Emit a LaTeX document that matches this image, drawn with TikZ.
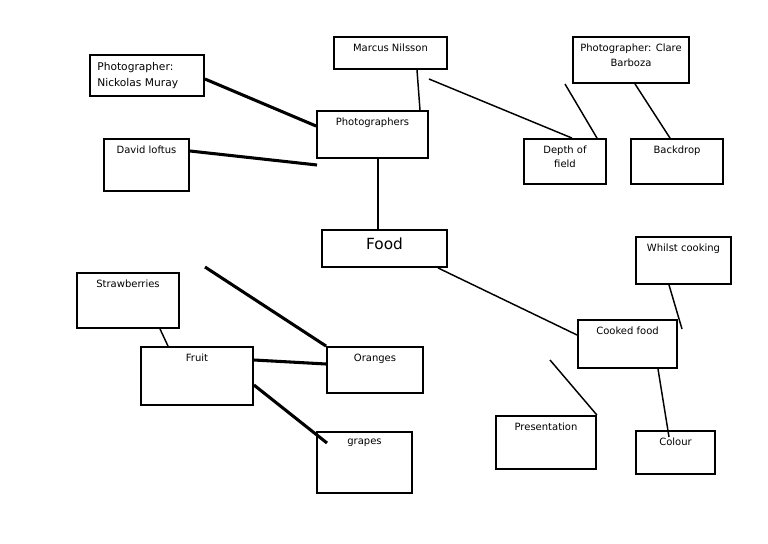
\documentclass[tikz,border=0pt]{standalone}
\usepackage{fontspec}
\setmainfont{DejaVu Sans}
\usetikzlibrary{fit}

\begin{document}
\begin{tikzpicture}[x=0.75pt,y=-0.75pt,
  box/.style={draw,line width=1.4pt,inner sep=0pt},
  lbl/.style={anchor=north,inner sep=0pt,yshift=-6pt,align=center,
    font=\fontsize{7.5}{10.5}\selectfont},
  link/.style={line width=1.1pt},
  heavy/.style={line width=2.3pt}]
  \useasboundingbox (0,0) rectangle (768,543);

  % centre
  \node[box,fit={(322,230) (447,267)},
    label={[lbl,yshift=-0.2pt,font=\fontsize{11.5}{13}\selectfont]north:Food}] (food) {};

  % photographers branch
  \node[box,fit={(317,111) (428,158)},label={[lbl]north:Photographers}] (phot) {};
  \node[box,fit={(90,55) (204,96)},
    label={[lbl,anchor=north west,xshift=6pt,align=left,font=\fontsize{8}{12}\selectfont]north west:Photographer:\\Nickolas Muray}] (muray) {};
  \node[box,fit={(334,37) (447,69)},label={[lbl]north:Marcus Nilsson}] (marcus) {};
  \node[box,fit={(104,139) (189,191)},label={[lbl]north:David loftus}] (loftus) {};
  \node[box,fit={(573,37) (689,83)},label={[lbl,font=\fontsize{7.5}{11}\selectfont]north:Photographer: Clare\\Barboza}] (clare) {};
  \node[box,fit={(524,139) (606,184)},label={[lbl,font=\fontsize{7.5}{9.8}\selectfont]north:Depth of\\field}] (dof) {};
  \node[box,fit={(631,139) (723,184)},label={[lbl]north:Backdrop}] (backdrop) {};

  % fruit branch
  \node[box,fit={(77,273) (179,328)},label={[lbl]north:Strawberries}] (straw) {};
  \node[box,fit={(141,347) (253,405)},label={[lbl]north:Fruit}] (fruit) {};
  \node[box,fit={(327,347) (423,393)},label={[lbl]north:Oranges}] (oranges) {};
  \node[box,fit={(317,432) (412,493)},label={[lbl]north:grapes}] (grapes) {};

  % cooked food branch
  \node[box,fit={(636,237) (731,284)},label={[lbl]north:Whilst cooking}] (whilst) {};
  \node[box,fit={(578,320) (677,368)},label={[lbl]north:Cooked food}] (cooked) {};
  \node[box,fit={(496,416) (596,469)},label={[lbl]north:Presentation}] (pres) {};
  \node[box,fit={(636,431) (715,474)},label={[lbl]north:Colour}] (colour) {};

  % loose line ends
  \coordinate (loftusend) at (317,165);
  \coordinate (dofa) at (429,79);
  \coordinate (dofb) at (565,84);
  \coordinate (whilstend) at (682,329);
  \coordinate (colourend) at (669,437);
  \coordinate (presstart) at (550,360);
  \coordinate (orangestart) at (205,267);
  \coordinate (grapesend) at (327,443);

  % connectors
  \draw[heavy] (muray.east |- 0,79) -- (phot.west |- 0,126);
  \draw[heavy] (loftus.east |- 0,151) -- (loftusend);
  \draw[link] (marcus.south -| 417,0) -- (phot.north -| 420,0);
  \draw[link] (phot.south -| 378,0) -- (food.north -| 378,0);
  \draw[link] (dofa) -- (dof.north -| 572,0);
  \draw[link] (dofb) -- (dof.north -| 597,0);
  \draw[link] (clare.south -| 635,0) -- (backdrop.north -| 670,0);
  \draw[link] (food.south -| 438,0) -- (cooked.west |- 0,335);
  \draw[link] (whilst.south -| 669,0) -- (whilstend);
  \draw[link] (cooked.south -| 658,0) -- (colourend);
  \draw[link] (presstart) -- (pres.north east);
  \draw[link] (straw.south -| 160,0) -- (fruit.north -| 168,0);
  \draw[heavy] (orangestart) -- (oranges.north west);
  \draw[heavy] (fruit.east |- 0,360) -- (oranges.west |- 0,364);
  \draw[heavy] (fruit.east |- 0,385) -- (grapesend);
\end{tikzpicture}
\end{document}
